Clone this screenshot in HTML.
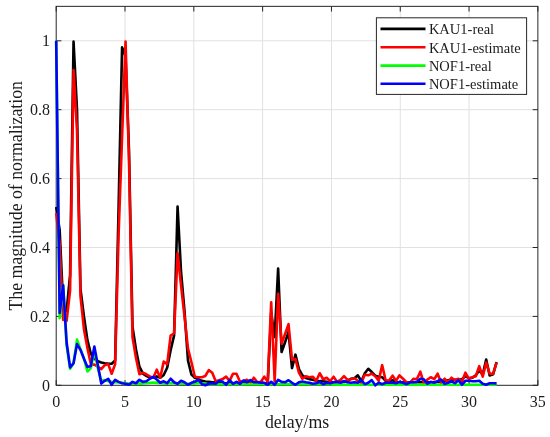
<!DOCTYPE html><html><head><meta charset="utf-8"><title>plot</title><style>html,body{margin:0;padding:0;background:#fff;}svg{display:block;}text{font-family:"Liberation Serif","Times New Roman",serif;fill:#1c1c1c;}</style></head><body>
<svg width="550" height="437" viewBox="0 0 550 437">
<rect width="550" height="437" fill="#fff"/>
<g stroke="#e1e1e1" stroke-width="1" fill="none"><line x1="125.01" y1="6.35" x2="125.01" y2="385.30"/><line x1="193.82" y1="6.35" x2="193.82" y2="385.30"/><line x1="262.63" y1="6.35" x2="262.63" y2="385.30"/><line x1="331.44" y1="6.35" x2="331.44" y2="385.30"/><line x1="400.25" y1="6.35" x2="400.25" y2="385.30"/><line x1="469.06" y1="6.35" x2="469.06" y2="385.30"/><line x1="56.20" y1="316.40" x2="537.87" y2="316.40"/><line x1="56.20" y1="247.50" x2="537.87" y2="247.50"/><line x1="56.20" y1="178.60" x2="537.87" y2="178.60"/><line x1="56.20" y1="109.70" x2="537.87" y2="109.70"/><line x1="56.20" y1="40.80" x2="537.87" y2="40.80"/></g>
<g stroke="#262626" stroke-width="1" fill="none"><line x1="56.20" y1="385.30" x2="56.20" y2="380.10"/><line x1="56.20" y1="6.35" x2="56.20" y2="11.55"/><line x1="125.01" y1="385.30" x2="125.01" y2="380.10"/><line x1="125.01" y1="6.35" x2="125.01" y2="11.55"/><line x1="193.82" y1="385.30" x2="193.82" y2="380.10"/><line x1="193.82" y1="6.35" x2="193.82" y2="11.55"/><line x1="262.63" y1="385.30" x2="262.63" y2="380.10"/><line x1="262.63" y1="6.35" x2="262.63" y2="11.55"/><line x1="331.44" y1="385.30" x2="331.44" y2="380.10"/><line x1="331.44" y1="6.35" x2="331.44" y2="11.55"/><line x1="400.25" y1="385.30" x2="400.25" y2="380.10"/><line x1="400.25" y1="6.35" x2="400.25" y2="11.55"/><line x1="469.06" y1="385.30" x2="469.06" y2="380.10"/><line x1="469.06" y1="6.35" x2="469.06" y2="11.55"/><line x1="537.87" y1="385.30" x2="537.87" y2="380.10"/><line x1="537.87" y1="6.35" x2="537.87" y2="11.55"/><line x1="56.20" y1="385.30" x2="61.40" y2="385.30"/><line x1="537.87" y1="385.30" x2="532.67" y2="385.30"/><line x1="56.20" y1="316.40" x2="61.40" y2="316.40"/><line x1="537.87" y1="316.40" x2="532.67" y2="316.40"/><line x1="56.20" y1="247.50" x2="61.40" y2="247.50"/><line x1="537.87" y1="247.50" x2="532.67" y2="247.50"/><line x1="56.20" y1="178.60" x2="61.40" y2="178.60"/><line x1="537.87" y1="178.60" x2="532.67" y2="178.60"/><line x1="56.20" y1="109.70" x2="61.40" y2="109.70"/><line x1="537.87" y1="109.70" x2="532.67" y2="109.70"/><line x1="56.20" y1="40.80" x2="61.40" y2="40.80"/><line x1="537.87" y1="40.80" x2="532.67" y2="40.80"/><rect x="56.20" y="6.35" width="481.67" height="378.95"/></g>
<g fill="none" stroke-width="2.6" stroke-linejoin="round" stroke-linecap="butt">
<polyline stroke="#000000" points="56.20,207.02 59.67,230.28 63.14,304.34 66.60,311.23 70.07,275.06 73.54,41.66 77.01,109.70 80.47,288.84 83.94,316.40 87.41,340.17 90.88,353.71 94.34,358.77 97.81,361.19 101.28,362.56 104.75,363.25 108.21,363.60 111.68,363.77 115.15,360.50 118.62,206.16 122.08,47.35 125.55,56.30 129.02,151.04 132.49,326.74 135.95,349.13 139.42,366.70 142.89,373.69 146.36,376.00 149.82,377.20 153.29,377.72 156.76,376.34 160.23,377.72 163.70,374.97 167.16,367.73 170.63,350.16 174.10,335.35 177.57,206.64 181.03,271.62 184.50,311.23 187.97,360.50 191.44,374.62 194.90,377.72 198.37,379.10 201.84,380.82 205.31,381.51 208.77,381.86 212.24,382.20 215.71,382.27 219.18,382.89 222.64,383.23 226.11,383.23 229.58,383.23 233.05,383.23 236.51,383.23 239.98,383.23 243.45,383.23 246.92,383.23 250.39,383.23 253.85,383.23 257.32,383.23 260.79,383.23 264.26,383.23 267.72,383.23 271.19,312.96 274.66,337.07 278.13,268.62 281.59,352.02 285.06,342.24 288.53,331.90 292.00,368.07 295.46,354.64 298.93,369.11 302.40,375.31 305.87,378.07 309.33,379.10 312.80,379.79 316.27,380.82 319.74,381.17 323.20,381.17 326.67,381.86 330.14,382.20 333.61,382.20 337.07,382.20 340.54,381.86 344.01,381.86 347.48,381.17 350.95,378.75 354.41,378.24 357.88,375.31 361.35,381.27 364.82,373.24 368.28,368.76 371.75,372.04 375.22,375.72 378.69,376.69 382.15,377.20 385.62,380.82 389.09,381.17 392.56,380.24 396.02,382.20 399.49,382.20 402.96,382.20 406.43,382.20 409.89,382.20 413.36,382.20 416.83,382.20 420.30,382.20 423.76,382.20 427.23,382.20 430.70,382.20 434.17,382.20 437.63,381.86 441.10,381.86 444.57,381.17 448.04,380.24 451.51,379.79 454.97,379.79 458.44,379.44 461.91,379.24 465.38,376.21 468.84,378.24 472.31,377.72 475.78,375.31 479.25,370.49 482.71,374.62 486.18,359.60 489.65,375.48 493.12,374.28 496.58,362.22"/>
<polyline stroke="#ff0000" points="56.20,213.05 59.67,244.06 63.14,319.85 66.60,320.88 70.07,290.56 73.54,70.08 77.01,131.06 80.47,296.07 83.94,329.15 87.41,348.09 90.88,364.29 94.34,364.63 97.81,366.70 101.28,369.11 104.75,365.15 108.21,364.11 111.68,373.69 115.15,364.11 118.62,233.72 122.08,137.26 125.55,41.66 129.02,161.38 132.49,337.07 135.95,357.74 139.42,374.28 142.89,372.73 146.36,374.28 149.82,376.34 153.29,377.72 156.76,369.69 160.23,377.72 163.70,361.63 167.16,364.11 170.63,335.69 174.10,333.28 177.57,253.12 181.03,285.40 184.50,316.40 187.97,348.44 191.44,362.22 194.90,376.69 198.37,377.20 201.84,377.20 205.31,376.00 208.77,370.14 212.24,372.69 215.71,381.27 219.18,380.24 222.64,379.10 226.11,376.69 229.58,380.82 233.05,373.69 236.51,373.69 239.98,381.86 243.45,381.17 246.92,379.79 250.39,382.79 253.85,377.72 257.32,382.27 260.79,381.86 264.26,376.69 267.72,381.86 271.19,302.28 274.66,381.27 278.13,293.77 281.59,343.62 285.06,333.97 288.53,324.08 292.00,359.60 295.46,359.12 298.93,372.69 302.40,378.75 305.87,376.21 309.33,377.20 312.80,376.69 316.27,380.82 319.74,373.24 323.20,379.24 326.67,377.72 330.14,381.27 333.61,376.69 337.07,381.86 340.54,379.79 344.01,376.21 347.48,379.79 350.95,379.24 354.41,378.24 357.88,380.82 361.35,382.79 364.82,374.69 368.28,375.31 371.75,373.69 375.22,376.21 378.69,380.82 382.15,365.15 385.62,380.24 389.09,380.55 392.56,375.65 396.02,380.82 399.49,375.31 402.96,378.75 406.43,382.27 409.89,382.79 413.36,378.75 416.83,379.24 420.30,371.69 423.76,382.79 427.23,379.79 430.70,377.20 434.17,379.24 437.63,373.69 441.10,382.79 444.57,378.75 448.04,382.27 451.51,377.72 454.97,380.24 458.44,378.75 461.91,382.27 465.38,372.69 468.84,378.75 472.31,377.20 475.78,376.21 479.25,366.15 482.71,376.69 486.18,362.63 489.65,373.69 493.12,373.69 496.58,362.63"/>
<polyline stroke="#00ff00" points="56.20,40.80 59.67,318.12 63.14,285.40 66.60,345.68 70.07,368.76 73.54,363.25 77.01,339.62 80.47,349.13 83.94,358.43 87.41,371.52 90.88,368.07 94.34,350.85 97.81,368.07 101.28,380.82 104.75,380.13 108.21,381.17 111.68,381.86 115.15,382.20 118.62,382.54 122.08,382.89 125.55,383.23 129.02,383.58 132.49,383.58 135.95,383.58 139.42,383.58 142.89,383.58 146.36,383.23 149.82,382.89 153.29,382.54 156.76,382.89 160.23,383.23 163.70,383.58 167.16,383.58 170.63,383.23 174.10,383.23 177.57,383.58 181.03,383.58 184.50,383.58 187.97,383.92 191.44,383.92 194.90,383.58 198.37,383.23 201.84,383.23 205.31,383.58 208.77,384.27 212.24,384.27 215.71,384.27 219.18,384.27 222.64,384.27 226.11,384.27 229.58,384.27 233.05,384.27 236.51,384.27 239.98,384.27 243.45,384.27 246.92,384.27 250.39,384.27 253.85,384.27 257.32,384.27 260.79,384.27 264.26,384.27 267.72,384.27 271.19,384.27 274.66,384.27 278.13,384.27 281.59,384.27 285.06,384.27 288.53,384.27 292.00,384.27 295.46,384.27 298.93,384.27 302.40,384.27 305.87,384.27 309.33,384.27 312.80,384.27 316.27,384.27 319.74,384.27 323.20,384.27 326.67,384.27 330.14,384.27 333.61,384.78 337.07,384.78 340.54,384.78 344.01,384.78 347.48,384.78 350.95,384.78 354.41,384.78 357.88,384.78 361.35,384.78 364.82,384.78 368.28,384.78 371.75,384.78 375.22,384.78 378.69,384.78 382.15,384.78 385.62,384.78 389.09,384.78 392.56,384.78 396.02,384.78 399.49,384.78 402.96,384.78 406.43,384.78 409.89,384.78 413.36,384.78 416.83,384.78 420.30,384.78 423.76,384.78 427.23,384.78 430.70,384.78 434.17,384.78 437.63,384.78 441.10,384.78 444.57,384.78 448.04,384.78 451.51,384.78 454.97,384.78 458.44,384.78 461.91,384.78 465.38,384.78 468.84,384.78 472.31,384.78 475.78,384.78 479.25,384.78 482.71,384.78 486.18,384.78 489.65,384.78 493.12,384.78 496.58,384.78"/>
<polyline stroke="#0000ff" points="56.20,40.80 59.67,312.96 63.14,285.40 66.60,342.24 70.07,367.39 73.54,363.25 77.01,344.13 80.47,349.82 83.94,358.77 87.41,367.04 90.88,366.01 94.34,346.54 97.81,364.97 101.28,383.58 104.75,380.82 108.21,378.75 111.68,384.78 115.15,379.79 118.62,381.86 122.08,383.23 125.55,383.75 129.02,384.78 132.49,381.86 135.95,383.23 139.42,379.79 142.89,381.86 146.36,381.27 149.82,378.75 153.29,376.86 156.76,379.44 160.23,382.79 163.70,381.27 167.16,383.23 170.63,378.75 174.10,382.27 177.57,383.75 181.03,380.82 184.50,382.27 187.97,384.78 191.44,382.79 194.90,381.86 198.37,379.79 201.84,383.92 205.31,385.30 208.77,383.75 212.24,383.23 215.71,383.75 219.18,380.82 222.64,381.86 226.11,384.78 229.58,380.24 233.05,383.75 236.51,381.86 239.98,383.75 243.45,380.48 246.92,382.27 250.39,379.96 253.85,382.27 257.32,382.27 260.79,382.79 264.26,382.79 267.72,384.78 271.19,381.86 274.66,384.78 278.13,379.79 281.59,381.86 285.06,382.27 288.53,380.24 292.00,382.79 295.46,384.78 298.93,382.20 302.40,381.51 305.87,382.27 309.33,382.79 312.80,383.75 316.27,383.23 319.74,381.86 323.20,384.27 326.67,382.79 330.14,383.23 333.61,382.27 337.07,381.86 340.54,382.79 344.01,381.17 347.48,382.27 350.95,382.79 354.41,382.27 357.88,382.79 361.35,380.13 364.82,384.27 368.28,382.79 371.75,380.13 375.22,385.30 378.69,382.79 382.15,384.27 385.62,382.79 389.09,382.79 392.56,382.79 396.02,383.23 399.49,381.86 402.96,382.79 406.43,384.27 409.89,382.27 413.36,382.27 416.83,381.86 420.30,378.75 423.76,379.24 427.23,383.75 430.70,381.86 434.17,382.79 437.63,381.17 441.10,379.51 444.57,383.92 448.04,382.79 451.51,381.27 454.97,383.23 458.44,380.24 461.91,384.78 465.38,380.82 468.84,380.82 472.31,381.27 475.78,381.27 479.25,380.82 482.71,383.75 486.18,384.78 489.65,383.23 493.12,383.23 496.58,383.41"/>
</g>
<g font-size="16px">
<text x="56.20" y="407" text-anchor="middle">0</text>
<text x="125.01" y="407" text-anchor="middle">5</text>
<text x="193.82" y="407" text-anchor="middle">10</text>
<text x="262.63" y="407" text-anchor="middle">15</text>
<text x="331.44" y="407" text-anchor="middle">20</text>
<text x="400.25" y="407" text-anchor="middle">25</text>
<text x="469.06" y="407" text-anchor="middle">30</text>
<text x="537.87" y="407" text-anchor="middle">35</text>
<text x="50" y="390.70" text-anchor="end">0</text>
<text x="50" y="321.80" text-anchor="end">0.2</text>
<text x="50" y="252.90" text-anchor="end">0.4</text>
<text x="50" y="184.00" text-anchor="end">0.6</text>
<text x="50" y="115.10" text-anchor="end">0.8</text>
<text x="50" y="46.20" text-anchor="end">1</text>
</g>
<text x="297.04" y="428.3" text-anchor="middle" font-size="17.8px">delay/ms</text>
<text transform="translate(22.3,195.82) rotate(-90)" text-anchor="middle" font-size="17.8px">The magnitude of normalization</text>
<rect x="376.4" y="17.8" width="150.2" height="76.6" fill="#fff" stroke="#262626" stroke-width="1"/>
<line x1="380.5" y1="28.9" x2="425.5" y2="28.9" stroke="#000000" stroke-width="2.6"/>
<text x="428.9" y="34.4" font-size="14.5px">KAU1-real</text>
<line x1="380.5" y1="47.3" x2="425.5" y2="47.3" stroke="#ff0000" stroke-width="2.6"/>
<text x="428.9" y="52.8" font-size="14.5px">KAU1-estimate</text>
<line x1="380.5" y1="65.6" x2="425.5" y2="65.6" stroke="#00ff00" stroke-width="2.6"/>
<text x="428.9" y="71.1" font-size="14.5px">NOF1-real</text>
<line x1="380.5" y1="83.8" x2="425.5" y2="83.8" stroke="#0000ff" stroke-width="2.6"/>
<text x="428.9" y="89.3" font-size="14.5px">NOF1-estimate</text>
</svg></body></html>
